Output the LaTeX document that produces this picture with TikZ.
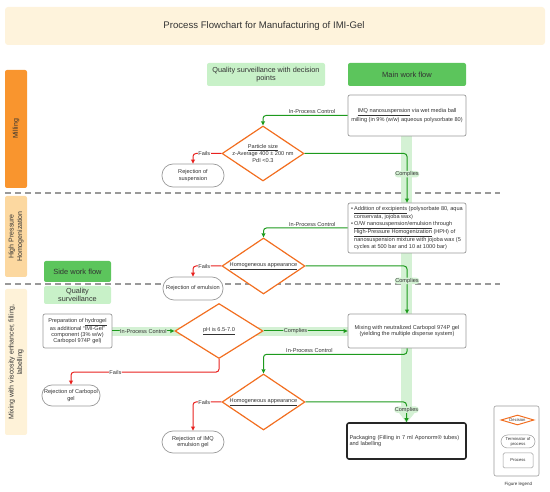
\documentclass[tikz,border=0pt]{standalone}
\usepackage{fontspec}
\setmainfont{Liberation Sans}
\usetikzlibrary{shapes.geometric,arrows.meta}
\definecolor{banner}{HTML}{FEF3DC}
\definecolor{lanea}{HTML}{F9952E}
\definecolor{laneb}{HTML}{FCD8A0}
\definecolor{lanec}{HTML}{FEF2D8}
\definecolor{dkgreen}{HTML}{5CC55C}
\definecolor{ltgreen}{HTML}{C8F1C8}
\definecolor{colgreen}{HTML}{D4F1D4}
\definecolor{decor}{HTML}{F26F21}
\definecolor{flowg}{HTML}{1D9A1D}
\definecolor{flowr}{HTML}{E8211E}
\definecolor{txt}{HTML}{333333}
\definecolor{bord}{HTML}{9A9A9A}
\definecolor{sepgray}{HTML}{999999}
\begin{document}
\begin{tikzpicture}[x=1pt,y=-1pt,
  every node/.style={text=txt},
  body/.style={font=\fontsize{5.6}{6.6}\selectfont},
  procbox/.style={draw=bord, line width=0.7pt, rounded corners=2pt, fill=white, minimum width=118pt, align=center, body, inner sep=1pt},
  term/.style={draw=bord, line width=0.7pt, rounded corners=11pt, fill=white, minimum width=62pt, minimum height=23pt, align=center, body, inner sep=1pt},
  decision/.style={diamond, draw=decor, line width=1.2pt, fill=white, inner sep=0pt, aspect=1.5},
  dtext/.style={body, align=center},
  gflow/.style={draw=flowg, line width=1pt, rounded corners=3pt, -{Triangle[length=4pt,width=3.8pt]}},
  rflow/.style={draw=flowr, line width=1pt, rounded corners=3pt, -{Triangle[length=4pt,width=3.8pt]}},
  lbl/.style={body, fill=white, inner sep=0.6pt},
  lblband/.style={body, fill=colgreen, inner sep=0.6pt},
  lblplain/.style={body, inner sep=1pt},
  lanebox/.style={rounded corners=2pt, minimum height=22pt, inner sep=0pt, align=center, font=\fontsize{7}{8.5}\selectfont},
  hdr/.style={rounded corners=2pt, inner sep=0pt, align=center, font=\fontsize{7.3}{8.6}\selectfont},
  sep/.style={draw=sepgray, line width=1.2pt, dash pattern=on 6pt off 4pt},
  lg/.style={font=\fontsize{4.2}{5}\selectfont, align=center}
]
\useasboundingbox (0,0) rectangle (550,492);

% title banner
\node[fill=banner, rounded corners=3pt, minimum width=540pt, minimum height=38pt, inner sep=0pt] (banner) at (275,26) {};
\node[font=\fontsize{9.6}{11}\selectfont] (title) at (264,26) {Process Flowchart for Manufacturing of IMI-Gel};

% lanes
\node[lanebox, fill=lanea, minimum width=118pt, rotate=90] (lmill) at (16,129) {Milling};
\node[lanebox, fill=laneb, minimum width=81pt, rotate=90] (lhph) at (16,236.5) {High Pressure\\Homogenization};
\node[lanebox, fill=lanec, minimum width=146pt, rotate=90] (lmix) at (16,362) {Mixing with viscosity enhancer, filling,\\labelling};

% separators
\draw[sep] (5,193) -- (500,193);
\draw[sep] (5,284) -- (500,284);

% main workflow highlight column and band
\fill[colgreen] (401,136) rectangle (412,410);
\fill[colgreen] (397,410) -- (417,410) -- (406.5,423) -- cycle;
\fill[colgreen] (112,327) rectangle (348,336);

% headers
\node[hdr, fill=ltgreen, minimum width=118pt, minimum height=23pt] (qsdp) at (266,74.5) {Quality surveillance with decision\\points};
\node[hdr, fill=dkgreen, minimum width=118pt, minimum height=23pt, font=\fontsize{7.5}{9}\selectfont] (mwf) at (407,74.5) {Main work flow};
\node[hdr, fill=dkgreen, minimum width=67pt, minimum height=21pt, font=\fontsize{7.5}{9}\selectfont] (swf) at (77.5,271.5) {Side work flow};
\node[hdr, fill=ltgreen, minimum width=67pt, minimum height=18pt] (qs) at (77.5,295) {Quality\\surveillance};

% process boxes
\node[procbox, minimum height=41pt] (imq) at (407,115.5) {\underline{IMQ nanosuspension} via wet media ball\\milling (in 9\% (w/w) aqueous polysorbate 80)};
\node[procbox, minimum height=50pt, align=left, font=\fontsize{5.6}{6.5}\selectfont] (hph) at (407,228) {%
\makebox[3pt][l]{\textbullet}\underline{Addition of excipients} (polysorbate 80, aqua\\
\hspace*{3pt}conservata, jojoba wax)\\
\makebox[3pt][l]{\textbullet}\underline{O/W nanosuspension/emulsion} through\\
\hspace*{3pt}\underline{High-Pressure Homogenization} (HPH) of\\
\hspace*{3pt}nanosuspension mixture with jojoba wax (5\\
\hspace*{3pt}cycles at 500 bar and 10 at 1000 bar)};
\node[procbox, minimum height=34pt] (mix) at (407,331) {Mixing with neutralized Carbopol 974P gel\\(yielding the multiple disperse system)};
\node[procbox, minimum width=69pt, minimum height=34pt, font=\fontsize{5.6}{6.2}\selectfont] (prep) at (77.5,331) {Preparation of \underline{hydrogel}\\as additional ``IMI-Gel''\\component (3\% w/w)\\Carbopol 974P gel)};
\node[procbox, draw=black!85, line width=1.6pt, minimum width=119pt, minimum height=36pt, text width=114pt, align=left] (pack) at (406.5,441) {Packaging (Filling in 7 ml Aponorm® tubes)\\and labelling};

% decisions
\node[decision, minimum width=82pt, minimum height=55pt, label={[dtext]center:\underline{Particle size}\\z-Average 400 ± 200 nm\\PdI <0.3}] (d1) at (263,153.5) {};
\node[decision, minimum width=83pt, minimum height=56pt, label={[dtext]center:\underline{Homogeneous appearance}}] (d2) at (263.5,266) {};
\node[decision, minimum width=88pt, minimum height=55pt, label={[dtext]center:\underline{pH is 6.5-7.0}}] (d3) at (219,331) {};
\node[decision, minimum width=83pt, minimum height=56pt, label={[dtext]center:\underline{Homogeneous appearance}}] (d4) at (263.5,402) {};

% terminators
\node[term] (rej1) at (193,175.5) {Rejection of\\suspension};
\node[term, minimum width=60pt] (rej2) at (193,288.5) {Rejection of emulsion};
\node[term, minimum width=58pt, minimum height=21pt, rounded corners=10pt] (rej3) at (71,395.5) {Rejection of Carbopol\\gel};
\node[term, minimum height=22pt] (rej4) at (193,442) {Rejection of IMQ\\emulsion gel};

% connectors: milling
\draw[gflow] (imq.west) -| node[pos=0.21, above, lblplain] {In-Process Control} (d1.north);
\draw[gflow] (d1.east) -| node[pos=0.71, lblband] {Complies} (hph.north);
\draw[rflow] (d1.west) -| node[pos=0.3, lbl] {Fails} (rej1.north);

% connectors: HPH
\draw[gflow] (hph.west) -| node[pos=0.21, above, lblplain] {In-Process Control} (d2.north);
\draw[gflow] (d2.east) -| node[pos=0.656, lblband] {Complies} (mix.north);
\draw[rflow] (d2.west) -| node[pos=0.3, lbl] {Fails} (rej2.north);

% connectors: mixing
\draw[gflow] (prep.east) -- node[lblband] {In-Process Control} (d3.west);
\draw[gflow] (d3.east) -- node[pos=0.38, lblband] {Complies} (mix.west);
\draw[rflow] (d3.south) -- ++(0,13) -| node[pos=0.35, lbl] {Fails} (rej3.north);
\draw[gflow] (mix.south) -- ++(0,6) -| node[pos=0.34, above, lblplain] {In-Process Control} (d4.north);
\draw[gflow] (d4.east) -| node[pos=0.69, lblband] {Complies} (pack.north);
\draw[rflow] (d4.west) -| node[pos=0.3, lbl] {Fails} (rej4.north);

% legend
\node[draw=bord, line width=0.6pt, rounded corners=2pt, minimum width=45pt, minimum height=70pt, inner sep=0pt] (legend) at (516.5,441) {};
\node[decision, line width=1pt, minimum width=33pt, minimum height=10pt, aspect=3.3, label={[lg]center:Decision}] (lgdec) at (517.5,420) {};
\node[draw=bord, line width=0.5pt, rounded corners=6.5pt, fill=white, minimum width=34pt, minimum height=13pt, inner sep=0pt, lg] (lgterm) at (518,441.5) {Terminator of\\process};
\node[draw=bord, line width=0.5pt, rounded corners=1.5pt, fill=white, minimum width=30pt, minimum height=15pt, inner sep=0pt, lg] (lgproc) at (518,460.5) {Process};
\node[font=\fontsize{4.5}{5.4}\selectfont] (lgtitle) at (518.5,484) {Figure legend};
\end{tikzpicture}
\end{document}
